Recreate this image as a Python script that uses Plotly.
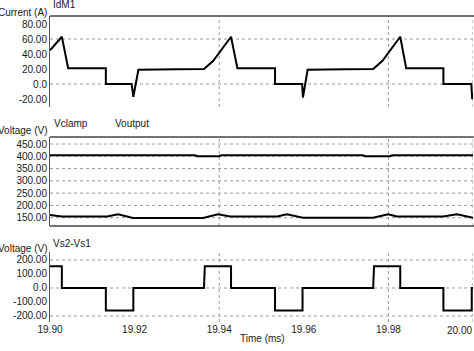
import plotly.graph_objects as go

# ---------------- data ----------------
# Panel 1: IdM1 current (A)
idm1_t = [19.9000, 19.9028, 19.9043, 19.9132, 19.9132, 19.9193, 19.9197, 19.9209, 19.9300,
          19.9364, 19.9386, 19.9428, 19.9443, 19.9532, 19.9532, 19.9596, 19.9598, 19.9609,
          19.9700, 19.9764, 19.9786, 19.9828, 19.9842, 19.9930, 19.9930, 19.9996, 19.9998,
          20.0000]
idm1_v = [45, 63, 21, 21, 0, 0, -17, 19, 19.5,
          20, 31, 63, 21, 21, 0, 0, -18, 19,
          19.5, 20, 31, 63, 21, 21, 0, 0, -20,
          -12]

# Panel 2: Vclamp and Voutput (V)
vclamp_t = [19.9000, 19.9196, 19.9206, 19.9215, 19.9343, 19.9348, 19.9400, 19.9405,
            19.9596, 19.9605, 19.9614, 19.9740, 19.9745, 19.9804, 19.9809, 20.0000]
vclamp_v = [404, 404, 407, 404, 404, 400, 400, 404,
            404, 407, 404, 404, 400, 400, 404, 404]

vout_t = [19.9000, 19.9028, 19.9135, 19.9161, 19.9196, 19.9362, 19.9397, 19.9426,
          19.9537, 19.9560, 19.9598, 19.9764, 19.9799, 19.9820, 19.9929, 19.9962, 20.0000]
vout_v = [161, 155, 155, 164, 149, 149, 164, 155,
          155, 164, 150, 150, 164, 155, 155, 164, 150]

# Panel 3: Vs2-Vs1 (V)
vs_t = [19.9000, 19.9028, 19.9028, 19.9132, 19.9132, 19.9197, 19.9197, 19.9364, 19.9366,
        19.9428, 19.9428, 19.9532, 19.9532, 19.9597, 19.9597, 19.9764, 19.9766, 19.9828,
        19.9828, 19.9930, 19.9930, 19.9997, 19.9997, 20.0000]
vs_v = [155, 155, 0, 0, -160, -160, 0, 0, 155,
        155, 0, 0, -160, -160, 0, 0, 155, 155,
        0, 0, -160, -160, 0, 0]

# ticks
x_tickvals = [19.90, 19.92, 19.94, 19.96, 19.98, 20.00]
x_ticktext = ["19.90", "19.92", "19.94", "19.96", "19.98", "20.00"]
x_gridvals = [19.94, 19.98, 20.00]

y1_tickvals = [80, 60, 40, 20, 0, -20]
y1_ticktext = ["80.00", "60.00", "40.00", "20.00", "0.0", "-20.00"]
y1_gridvals = [60, 0]

y2_tickvals = [450, 400, 350, 300, 250, 200, 150]
y2_ticktext = ["450.00", "400.00", "350.00", "300.00", "250.00", "200.00", "150.00"]
y2_gridvals = [450, 400, 350, 300, 250, 200, 150]

y3_tickvals = [200, 100, 0, -100, -200]
y3_ticktext = ["200.00", "100.00", "0.0", "-100.00", "-200.00"]
y3_gridvals = [200, 0, -200]

# ---------------- figure ----------------
FONT = "Liberation Sans, Arial, sans-serif"
TXT = "#1a1a1a"
LINE = dict(color="black", width=2)

fig = go.Figure()
fig.add_trace(go.Scatter(x=idm1_t, y=idm1_v, mode="lines", line=LINE, xaxis="x", yaxis="y"))
fig.add_trace(go.Scatter(x=vclamp_t, y=vclamp_v, mode="lines", line=LINE, xaxis="x", yaxis="y2"))
fig.add_trace(go.Scatter(x=vout_t, y=vout_v, mode="lines", line=LINE, xaxis="x", yaxis="y2"))
fig.add_trace(go.Scatter(x=vs_t, y=vs_v, mode="lines", line=LINE, xaxis="x", yaxis="y3"))

H = 351.0
def dom(top_px, bot_px):
    return [1 - bot_px / H, 1 - top_px / H]

yax_common = dict(showgrid=False, zeroline=False, showline=True, linecolor="#555",
                  linewidth=1, ticks="", tickfont=dict(size=10, color=TXT, family=FONT),
                  fixedrange=True)

shapes = []
grid_style = dict(color="#9a9a9a", width=1, dash="dot")
for yname, gv in (("y", y1_gridvals), ("y2", y2_gridvals), ("y3", y3_gridvals)):
    for v in gv:
        shapes.append(dict(type="line", xref="paper", yref=yname, x0=0, x1=1, y0=v, y1=v,
                           line=grid_style, layer="below"))
    for xv in x_gridvals:
        shapes.append(dict(type="line", xref="x", yref=yname + " domain", x0=xv, x1=xv,
                           y0=0, y1=1, line=grid_style, layer="below"))

border = dict(color="#444", width=1.5)
for ypx in (16, 137, 226):
    yy = 1 - ypx / H
    shapes.append(dict(type="line", xref="paper", yref="paper", x0=0, x1=1.01, y0=yy, y1=yy,
                       line=border))

def ann(text, xpx, ypx, anchor):
    return dict(text=text, xref="paper", yref="paper", x=(xpx - 50) / 423.0, y=1 - ypx / H,
                xanchor=anchor, yanchor="middle", showarrow=False,
                font=dict(size=10, color=TXT, family=FONT))

annotations = [
    ann("Current (A)", 49, 13, "right"),
    ann("IdM1", 51, 5, "left"),
    ann("Voltage (V)", 49, 131, "right"),
    ann("Vclamp", 52, 124, "left"),
    ann("Voutput", 113, 124, "left"),
    ann("Voltage (V)", 49, 248, "right"),
    ann("Vs2-Vs1", 51, 243, "left"),
    ann("Time (ms)", 262, 338, "center"),
    ann(x_ticktext[-1], 474, 330, "right"),
]

fig.update_layout(
    width=474, height=351,
    margin=dict(l=50, r=1, t=0, b=0),
    paper_bgcolor="white", plot_bgcolor="white",
    showlegend=False,
    font=dict(family=FONT, size=10, color=TXT),
    xaxis=dict(range=[19.90, 20.00], domain=[0, 1], anchor="y3", showgrid=False,
               zeroline=False, showline=False, ticks="",
               tickvals=x_tickvals[:-1], ticktext=x_ticktext[:-1],
               tickfont=dict(size=10, color=TXT, family=FONT), fixedrange=True),
    yaxis=dict(domain=dom(16, 107), range=[-30.67, 90.67], anchor="x",
               tickvals=y1_tickvals, ticktext=y1_ticktext, **yax_common),
    yaxis2=dict(domain=dom(137, 226), range=[116.2, 478.5], anchor="x",
                tickvals=y2_tickvals, ticktext=y2_ticktext, **yax_common),
    yaxis3=dict(domain=dom(252, 322), range=[-242.9, 257.1], anchor="x",
                tickvals=y3_tickvals, ticktext=y3_ticktext, **yax_common),
    shapes=shapes,
    annotations=annotations,
)

fig.write_html("out.html")
